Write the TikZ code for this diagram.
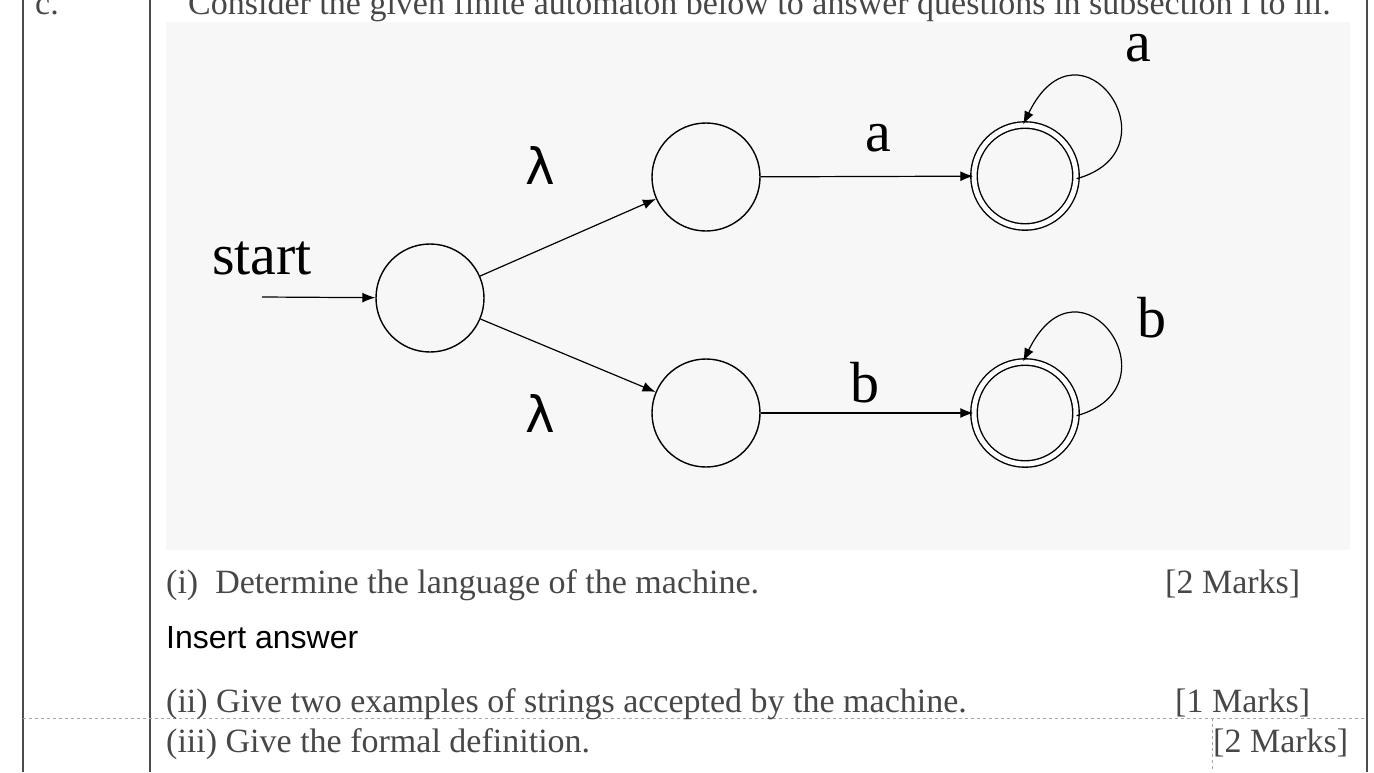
\documentclass[tikz,border=0pt]{standalone}
\usepackage{fontspec}
\setmainfont{Liberation Serif}
\newfontfamily\lsans{Liberation Sans}
\newfontfamily\dsans{DejaVu Sans}
\usetikzlibrary{arrows.meta}
\begin{document}
\begin{tikzpicture}[x=1pt,y=-1pt,
  st/.style={circle,draw,line width=1.4pt,minimum size=108pt,inner sep=0pt},
  acc/.style={circle,draw,double,double distance=5pt,line width=1.4pt,minimum size=102pt,inner sep=0pt},
  tr/.style={line width=1.2pt,-{Latex[length=13pt,width=10pt]}},
  lab/.style={font=\fontsize{58}{58}\selectfont},
  lam/.style={font=\dsans\fontsize{50}{50}\selectfont},
  txt/.style={font=\fontsize{34}{34}\selectfont,text=black!72,anchor=base west,inner sep=0pt},
  rule/.style={line width=2pt,draw=black!70}]
\useasboundingbox (0,0) rectangle (1374,772);
\clip (0,0) rectangle (1374,772);
\fill[black!3] (166,22) rectangle (1350,550);
\draw[rule] (23,0) -- (23,772);
\draw[rule] (150,0) -- (150,772);
\draw[rule] (1367,0) -- (1367,772);
\draw[black!35,dashed,line width=1pt] (23,718) -- (1367,718);
\draw[black!35,dashed,line width=1pt] (1212,718) -- (1212,772);
\node[txt] (c) at (35,14) {c.};
\node[txt] (intro) at (188,14) {Consider the given finite automaton below to answer questions in subsection i to iii.};
\node[st] (q0) at (430,298) {};
\node[st] (q1) at (706,177) {};
\node[st] (q2) at (706,413) {};
\node[acc] (q3) at (1025,176) {};
\node[acc] (q4) at (1025,413) {};
\coordinate (s) at (262,297);
\node[lab,anchor=base] (start) at (262,274) {start};
\draw[tr] (s) -- (q0);
\draw[tr] (q0) -- (q1);
\draw[tr] (q0) -- (q2);
\draw[tr] (q1) -- (q3);
\draw[tr] (q2) -- (q4);
\node[lam] (l1) at (540,166) {λ};
\node[lam] (l2) at (540,413) {λ};
\node[lab] (la) at (878,138) {a};
\node[lab] (lb) at (865,383) {b};
\draw[tr] (q3.-3) .. controls (1180,150) and (1080,8) .. (q3.92);
\draw[tr] (q4.-3) .. controls (1180,387) and (1080,245) .. (q4.92);
\node[lab] (la2) at (1138,48) {a};
\node[lab] (lb2) at (1152,318) {b};
\node[txt] (i) at (166,593) {(i)\enspace Determine the language of the machine.};
\node[txt] (m1) at (1165,593) {[2 Marks]};
\node[txt,font=\lsans\fontsize{32}{32}\selectfont,text=black] (ans) at (166,648) {Insert answer};
\node[txt] (ii) at (166,712) {(ii) Give two examples of strings accepted by the machine.};
\node[txt] (m2) at (1175,712) {[1 Marks]};
\node[txt] (iii) at (166,752) {(iii) Give the formal definition.};
\node[txt] (m3) at (1213,752) {[2 Marks]};
\end{tikzpicture}
\end{document}
